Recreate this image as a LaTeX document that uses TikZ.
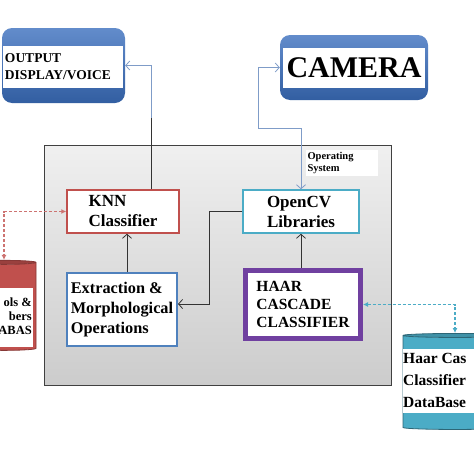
\documentclass[tikz,border=0pt]{standalone}
\usepackage{fontspec}
\setmainfont{Liberation Serif}
\usetikzlibrary{arrows.meta,shapes.geometric,calc}

\definecolor{capblue}{HTML}{3B6FBE}
\definecolor{knnred}{HTML}{C0504D}
\definecolor{cvteal}{HTML}{4BACC6}
\definecolor{extblue}{HTML}{4F81BD}
\definecolor{haarpurple}{HTML}{7040A0}
\definecolor{linkblue}{HTML}{7F9CC8}

\newcommand\blockfont{\bfseries\fontsize{17}{20}\selectfont}

\begin{document}
\begin{tikzpicture}[x=1pt,y=-1pt,
	blockbox/.style={draw, fill=white, line width=1.5pt, align=left, inner sep=2pt, font=\blockfont},
	capbox/.style={rounded corners=10pt, top color=capblue!80!white, bottom color=capblue!85!black},
	darkarrow/.style={draw=black!80, line width=0.8pt, -{Straight Barb[length=4pt,width=9pt]}},
	bluearrow/.style={draw=linkblue, line width=0.8pt, -{Straight Barb[length=4pt,width=9pt]}},
	bluetwo/.style={draw=linkblue, line width=0.8pt, {Straight Barb[length=4pt,width=9pt]}-{Straight Barb[length=4pt,width=9pt]}},
	dashlink/.style={line width=1.2pt, dash pattern=on 3pt off 2pt, {Latex[length=5pt,width=5pt]}-{Latex[length=5pt,width=5pt]}},
	dbshape/.style={cylinder, shape border rotate=90, aspect=0.6, draw, line width=0.8pt, cylinder uses custom fill}]
	\useasboundingbox (0,0) rectangle (474,474);
	\clip (0,0) rectangle (474,474);

	% operating system frame
	\node (os) [draw=black!75, line width=1pt, top color=gray!12, bottom color=gray!40,
		minimum width=347pt, minimum height=240pt] at (217.5,265) {};
	\node (oslabel) [fill=white, minimum width=72pt, minimum height=26pt, text width=68pt, align=left, inner xsep=2pt,
		inner ysep=1pt, font=\bfseries\fontsize{10.5}{12}\selectfont] at (341.5,163) {Operating\\System};

	% output and camera
	\node (out) [capbox, minimum width=123pt, minimum height=75pt] at (63.5,65.5) {};
	\node (outtxt) [fill=white, minimum width=120pt, minimum height=42pt, text width=116pt, align=left,
		inner xsep=2pt, font=\bfseries\fontsize{13.5}{17}\selectfont] at (63,66.5) {OUTPUT\\DISPLAY/VOICE};
	\node (cam) [capbox, minimum width=148pt, minimum height=65pt] at (354,67.5) {};
	\node (camtxt) [fill=white, minimum width=142pt, minimum height=40pt,
		font=\bfseries\fontsize{30}{32}\selectfont] at (354,68) {CAMERA};

	% blocks
	\node (knn) [blockbox, draw=knnred, minimum width=112pt, minimum height=43pt] at (123,211.5) {KNN\\Classifier};
	\node (cv) [blockbox, draw=cvteal, minimum width=116pt, minimum height=43pt] at (301,211.5) {OpenCV\\Libraries};
	\node (ext) [blockbox, draw=extblue, line width=2pt, minimum width=110pt, minimum height=73pt, inner sep=0pt,
		font=\bfseries\fontsize{16.3}{20}\selectfont] at (122,309.5) {Extraction \&\\Morphological\\Operations};
	\node (haar) [blockbox, draw=haarpurple, line width=5pt, minimum width=115pt, minimum height=68pt,
		font=\bfseries\fontsize{15.5}{18}\selectfont] at (303,304.5) {HAAR\\CASCADE\\CLASSIFIER};

	% databases
	\node (ldb) [dbshape, draw=knnred!70!black, cylinder body fill=knnred, cylinder end fill=knnred!80!black,
		minimum width=64pt, minimum height=90pt] at (4,307) {};
	\fill[white] (-25,288) rectangle (33,347);
	\node (ldbtxt) [anchor=east, align=right, inner sep=0pt, font=\bfseries\fontsize{12.5}{14}\selectfont]
		at (32,316) {ols \&\\bers\\ABAS};
	\node (rdb) [dbshape, draw=cvteal!60!black, cylinder body fill=cvteal, cylinder end fill=cvteal!85!black,
		minimum width=104pt, minimum height=96pt] at (455,383) {};
	\fill[white] (403,349) rectangle (507,413);
	\node (rdbtxt) [anchor=west, align=left, inner sep=0pt, font=\bfseries\fontsize{15.5}{22}\selectfont]
		at (403,380) {Haar Cas\\Classifier\\DataBase};

	% connectors
	\coordinate (kup) at (151,118);
	\draw[black!80, line width=0.8pt] (kup |- knn.north) -- (kup);
	\draw[bluearrow] (kup) |- (out.east);
	\coordinate (cbend) at (258,128);
	\draw[bluetwo] (cam.west) -| (cbend) -| (cv.north);
	\draw[darkarrow] (haar.north -| cv.south) -- (cv.south);
	\coordinate (ebend) at (209,304);
	\draw[darkarrow] (cv.west) -| (ebend) -- (ebend -| ext.east);
	\coordinate (kx) at (127,0);
	\draw[darkarrow] (kx |- ext.north) -- (kx |- knn.south);
	\draw[dashlink, draw=knnred!80] (knn.west) -| (ldb.north);
	\draw[dashlink, draw=cvteal] (haar.east) -| (rdb.north);

\end{tikzpicture}
\end{document}
